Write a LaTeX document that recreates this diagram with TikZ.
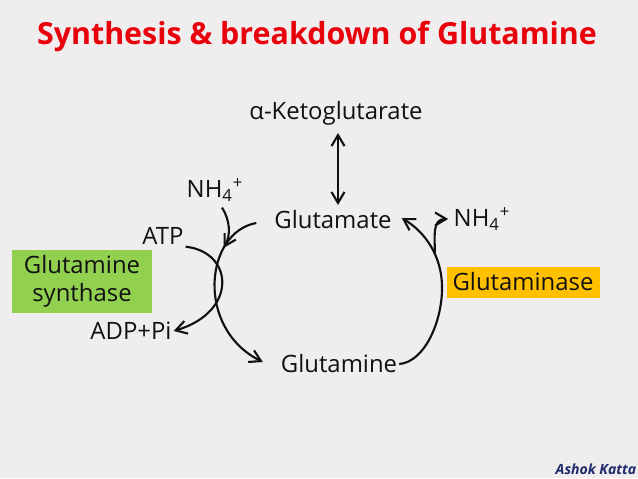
\documentclass[tikz,border=0pt]{standalone}
\usepackage{fontspec}
\setmainfont{Open Sans}
\usepackage{tikz}
\usetikzlibrary{arrows.meta,positioning}
\usepackage{xcolor}
\definecolor{Ink}{HTML}{111111}
\definecolor{Paper}{HTML}{EFEDEE}
\definecolor{Title}{HTML}{E8000B}
\definecolor{Leaf}{HTML}{92D050}
\definecolor{Amber}{HTML}{FFC000}
\definecolor{Navy}{HTML}{1F2A6B}

\begin{document}
\begin{tikzpicture}[x=0.02cm,y=-0.02cm,
    label/.style={text=Ink,font=\fontsize{13.6}{15}\selectfont,inner sep=1pt},
    enzyme/.style={text=Ink,font=\fontsize{13.6}{16}\selectfont,align=center,inner sep=2pt},
    arrow/.style={-{Straight Barb[length=2.2mm,width=2.6mm]},line width=1.2pt,draw=Ink},
    plain/.style={line width=1.2pt,draw=Ink}
  ]
    \fill[Paper] (0,0) rectangle (638,478);
    \useasboundingbox (0,0) rectangle (638,478);
    \node[text=Title,font=\fontsize{17.3}{19}\selectfont\bfseries] (title) at (317,37) {Synthesis \& breakdown of Glutamine};
    \node[label] (akg) at (336,113) {α-Ketoglutarate};
    \node[label] (glu) at (333,220) {Glutamate};
    \node[label] (gln) at (339,364) {Glutamine};
    \node[label] (nhin) at (215,190) {NH\textsubscript{4}\textsuperscript{+}};
    \node[label] (nhout) at (482,219) {NH\textsubscript{4}\textsuperscript{+}};
    \node[label] (atp) at (163,236) {ATP};
    \node[label] (adp) at (131,331) {ADP+Pi};
    \node[enzyme,fill=Leaf,minimum width=140*0.02cm,minimum height=63*0.02cm] (gs) at (82,281) {Glutamine\\synthase};
    \node[enzyme,fill=Amber,minimum width=153*0.02cm,minimum height=31*0.02cm] (gase) at (523,282) {Glutaminase};
    \node[font=\fontsize{8}{9}\selectfont\bfseries\itshape,text=Navy] (sign) at (596,469) {Ashok Katta};
    % transamination
    \draw[line width=1.2pt,draw=Ink,{Straight Barb[length=2.2mm,width=2.6mm]}-{Straight Barb[length=2.2mm,width=2.6mm]}] (338,133) -- (338,205);
    % synthase side
    \draw[arrow] ([shift={(-16,3)}]glu.west) .. controls (205,232) and (195,328) .. coordinate[pos=0.28] (merge) ([shift={(-16,-2)}]gln.west);
    \draw[arrow] ([shift={(7,4)}]nhin.south) .. controls (230,220) and (231,235) .. (merge);
    \draw[arrow] (atp.south east) .. controls (234,252) and (238,312) .. (adp.east);
    % glutaminase side
    \draw[arrow] (gln.east) .. controls (425,362) and (443,320) .. (442,285)
      .. controls (441,255) and (425,232) .. coordinate[pos=0.38] (split) ([shift={(8,-2)}]glu.east);
    \draw[arrow] (split) .. controls (435,236) and (432,219) .. ([xshift=-2pt]nhout.west);
  \end{tikzpicture}
\end{document}
